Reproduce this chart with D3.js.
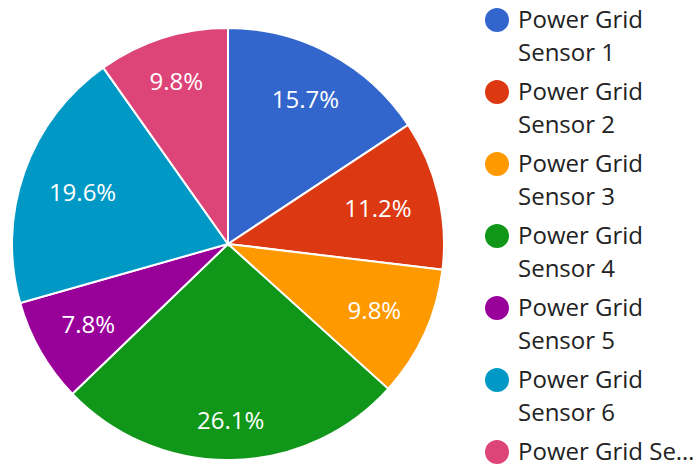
<!DOCTYPE html>
<meta charset="utf-8">
<style>
  body { margin: 0; background: #fff; }
  text { font-family: "Open Sans", "Noto Sans", sans-serif; }
</style>
<body>
<script src="https://d3js.org/d3.v7.min.js"></script>
<script>

// Chart data
var sensors = ["Power Grid Sensor 1", "Power Grid Sensor 2", "Power Grid Sensor 3",
               "Power Grid Sensor 4", "Power Grid Sensor 5", "Power Grid Sensor 6",
               "Power Grid Sensor 7"];
var shares = [15.7, 11.2, 9.8, 26.1, 7.8, 19.6, 9.8];
var colors = ["#3366cc", "#dc3912", "#ff9900", "#109618", "#990099", "#0099c6", "#dd4477"];

var width = 699, height = 464;
var cx = 228, cy = 244, radius = 216;

var svg = d3.select("body").append("svg")
    .attr("width", width)
    .attr("height", height);

var color = d3.scaleOrdinal().domain(sensors).range(colors);

var pie = d3.pie().sort(null).value(function(d, i) { return shares[i]; });
var arc = d3.arc().innerRadius(0).outerRadius(radius);

var g = svg.append("g").attr("transform", "translate(" + cx + "," + cy + ")");

var slices = pie(sensors);

g.selectAll("path")
    .data(slices)
  .enter().append("path")
    .attr("d", arc)
    .attr("fill", function(d) { return color(d.data); })
    .attr("stroke", "#fff")
    .attr("stroke-width", 2);

// percentage labels: pushed out along the mid angle until the
// label's outer corner touches a fixed inner circle
var labelR = radius * 0.875;
g.selectAll(".label")
    .data(slices)
  .enter().append("text")
    .attr("class", "label")
    .attr("text-anchor", "middle")
    .attr("dy", "0.35em")
    .style("font-size", "24px")
    .style("fill", "#fff")
    .text(function(d) { return d3.format(".1f")(d.value) + "%"; })
    .attr("transform", function(d) {
      var a = (d.startAngle + d.endAngle) / 2;
      var hw = this.getComputedTextLength() / 2, hh = 9;
      var lo = 0, hi = labelR;
      for (var k = 0; k < 30; k++) {
        var m = (lo + hi) / 2;
        var px = Math.abs(m * Math.sin(a)) + hw, py = Math.abs(m * Math.cos(a)) + hh;
        if (Math.sqrt(px * px + py * py) > labelR) hi = m; else lo = m;
      }
      return "translate(" + (lo * Math.sin(a)) + "," + (-lo * Math.cos(a)) + ")";
    });

// Legend: wrap the names onto two lines, the last one is cut short
var legendX = 497, textX = 518, legendTop = 20, step = 72, lineH = 33;
var maxW = width - textX - 4;

var legend = svg.selectAll(".legend")
    .data(sensors)
  .enter().append("g")
    .attr("class", "legend")
    .attr("transform", function(d, i) { return "translate(0," + (legendTop + i * step) + ")"; });

legend.append("circle")
    .attr("cx", legendX)
    .attr("cy", 0)
    .attr("r", 12)
    .attr("fill", function(d) { return color(d); });

legend.each(function(d, i) {
  var el = d3.select(this);
  var room = height - (legendTop + i * step);
  var t = el.append("text")
      .attr("x", textX)
      .attr("y", 8)
      .style("font-size", "24px")
      .style("fill", "#222");
  if (room > lineH + 10) {
    var words = d.split(" ");
    t.text(words.slice(0, 2).join(" "));
    el.append("text")
      .attr("x", textX)
      .attr("y", 8 + lineH)
      .style("font-size", "24px")
      .style("fill", "#222")
      .text(words.slice(2).join(" "));
  } else {
    var s = d;
    t.text(s);
    while (t.node().getComputedTextLength() > maxW && s.length > 1) {
      s = s.slice(0, -1);
      t.text(s.trim() + "…");
    }
  }
});

</script>
</body>
